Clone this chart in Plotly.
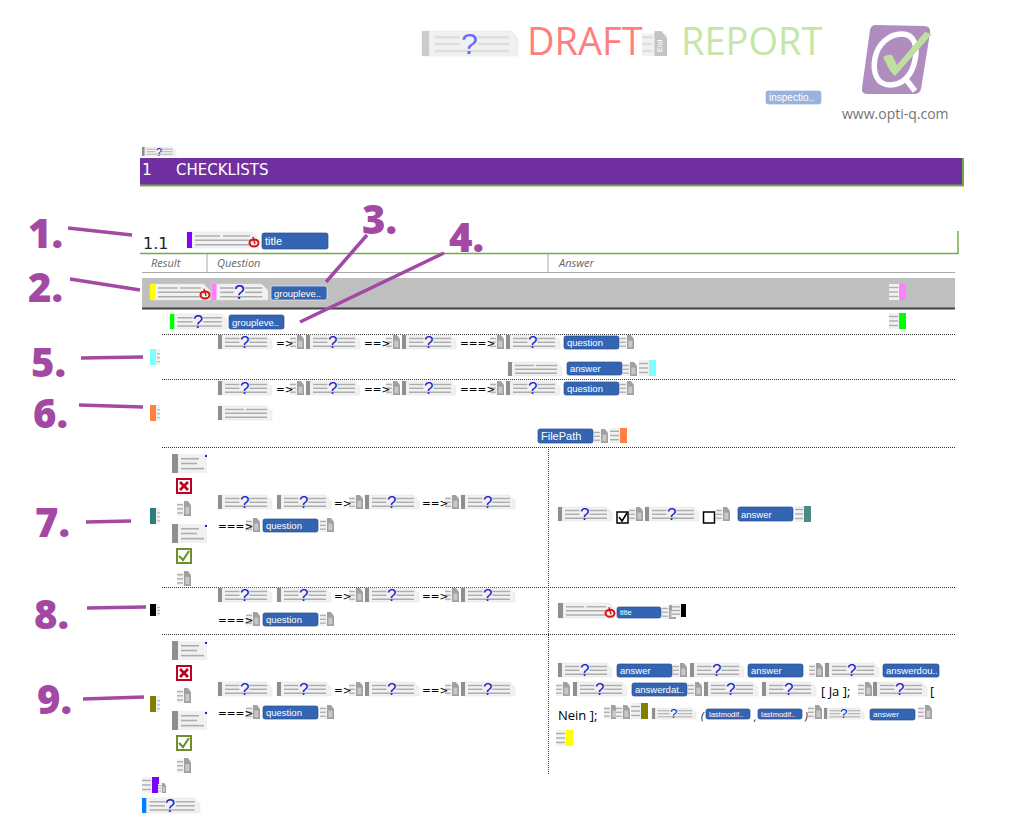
import plotly.graph_objects as go

# texts
header_words = ['DRAFT', 'REPORT']
site_label = 'www.opti-q.com'
section_no = '1'
section_title = 'CHECKLISTS'
sub_no = '1.1'
column_names = ['Result', 'Question', 'Answer']
callouts = ['1.', '2.', '3.', '4.', '5.', '6.', '7.', '8.', '9.']
arrows = ['=>', '==>', '===>']

PURPLE = '#a349a4'
BLUE = '#3465b3'
GREEN = '#70ad47'
TAG_BG = '#f1f1f1'
LINES = '#adadad'

shapes = []
notes = []


def rect(x0, y0, x1, y1, fill, line=None, width=1):
    shapes.append(dict(type='rect', x0=x0, y0=y0, x1=x1, y1=y1, fillcolor=fill,
                       line=dict(color=line or fill, width=width if line else 0)))


def seg(x0, y0, x1, y1, color, width=1, dash='solid'):
    shapes.append(dict(type='line', x0=x0, y0=y0, x1=x1, y1=y1,
                       line=dict(color=color, width=width, dash=dash)))


def path(d, fill='rgba(0,0,0,0)', line=None, width=0):
    shapes.append(dict(type='path', path=d, fillcolor=fill,
                       line=dict(color=line or 'rgba(0,0,0,0)', width=width)))


def text(x, y, s, size=11, color='#000000', font='Liberation Sans', anchor='left', bold=False, italic=False, weight=None, angle=0):
    if bold:
        s = '<b>' + s + '</b>'
    if italic:
        s = '<i>' + s + '</i>'
    f = dict(size=size, color=color, family=font)
    if weight:
        f['weight'] = weight
    notes.append(dict(x=x, y=y, text=s, showarrow=False, xanchor=anchor, yanchor='middle', font=f, textangle=angle))


def tag_body(x, y, w, h):
    fold = min(h * 0.4, 7)
    path(f'M{x},{y} L{x + w - fold},{y} L{x + w},{y + fold} L{x + w},{y + h} L{x},{y + h} Z',
         fill=TAG_BG, line='#e2e2e2', width=0.5)


def q_tag(x, y, w=54, h=14, bar='#8f8f8f', qcolor='#2020cc', lines=LINES):
    tag_body(x, y, w, h)
    k = h / 14
    rect(x, y, x + 4 * k, y + h, bar)
    mid = x + w * 0.49
    for f in (0.25, 0.52):
        seg(x + 7 * k, y + h * f, mid - 5 * k, y + h * f, lines, 1.4 * k)
        seg(mid + 5 * k, y + h * f, x + w - 5 * k, y + h * f, lines, 1.4 * k)
    seg(x + 7 * k, y + h * 0.8, x + w - 5 * k, y + h * 0.8, lines, 1.4 * k)
    text(mid, y + h / 2, '?', size=17 * k, color=qcolor, anchor='center', font='Liberation Sans')


def blank_tag(x, y, w=54, h=14):
    tag_body(x, y, w, h)
    rect(x, y, x + 4, y + h, '#8f8f8f')
    seg(x + 7, y + h * 0.25, x + w * 0.48, y + h * 0.25, LINES, 1.4)
    seg(x + w * 0.52, y + h * 0.25, x + w - 5, y + h * 0.25, LINES, 1.4)
    seg(x + 7, y + h * 0.52, x + w - 5, y + h * 0.52, LINES, 1.4)
    seg(x + 7, y + h * 0.8, x + w - 5, y + h * 0.8, LINES, 1.4)


def swirl_tag(x, y, w, h, bar):
    tag_body(x, y, w, h)
    rect(x, y, x + 5, y + h, bar)
    seg(x + 8, y + h * 0.25, x + w * 0.46, y + h * 0.25, LINES, 1.4)
    seg(x + w * 0.5, y + h * 0.25, x + w - 9, y + h * 0.25, LINES, 1.4)
    seg(x + 8, y + h * 0.52, x + w - 6, y + h * 0.52, LINES, 1.4)
    seg(x + 8, y + h * 0.8, x + w - 9, y + h * 0.8, LINES, 1.4)
    cx, cy = x + w - 5, y + h * 0.68
    shapes.append(dict(type='circle', x0=cx - 4.5, y0=cy - 3.5, x1=cx + 4.5, y1=cy + 3.5,
                       line=dict(color='#dd1111', width=2), fillcolor='rgba(0,0,0,0)'))
    seg(cx - 1, cy - 6, cx + 1, cy + 1, '#dd1111', 1.5)


def end_tag(x, y, w=14, h=14, bg=TAG_BG, lines=LINES, doc='#a0a0a0'):
    rect(x, y + h * 0.1, x + w, y + h, bg)
    for f in (0.25, 0.52, 0.8):
        seg(x, y + h * f, x + w * 0.42, y + h * f, lines, 1.3 * h / 14)
    d0 = x + w * 0.5
    path(f'M{d0},{y} L{x + w * 0.78},{y} L{x + w},{y + h * 0.3} L{x + w},{y + h} L{d0},{y + h} Z', fill=doc)
    rect(d0 + w * 0.1, y + h * 0.4, x + w * 0.88, y + h * 0.88, '#c8c8c8')


def end_bar(x, y, color, w=17, h=16, barw=7):
    rect(x, y, x + w - barw, y + h, TAG_BG)
    for f in (0.22, 0.5, 0.78):
        seg(x, y + h * f, x + w - barw - 1, y + h * f, LINES, 1.4)
    rect(x + w - barw, y, x + w, y + h, color)


def marker(x, y, color, h=16):
    rect(x, y, x + 6, y + h, color)
    rect(x + 6, y, x + 10, y + h, TAG_BG)
    for f in (0.3, 0.55, 0.8):
        seg(x + 7, y + h * f, x + 10, y + h * f, LINES, 1)


def button(x, y, w, h, label, size=9.5, fill=BLUE, edge='#2a4f8c'):
    r = 2
    path(f'M{x + r},{y} L{x + w - r},{y} Q{x + w},{y} {x + w},{y + r} L{x + w},{y + h - r} Q{x + w},{y + h} {x + w - r},{y + h} '
         f'L{x + r},{y + h} Q{x},{y + h} {x},{y + h - r} L{x},{y + r} Q{x},{y} {x + r},{y} Z',
         fill=fill, line=edge, width=0.7)
    text(x + 1, y + h / 2, label, size=size, color='#ffffff')


def check_tag(x, y, w=35, h=19):
    rect(x, y, x + w, y + h, TAG_BG)
    rect(x, y, x + 6, y + h, '#8f8f8f')
    for f, x1 in ((0.25, w - 8), (0.5, w - 10), (0.77, w - 3)):
        seg(x + 9, y + h * f, x + x1, y + h * f, LINES, 1.6)
    rect(x + w - 2, y + 1, x + w, y + 3, '#2020cc')


def cross_box(x, y):
    rect(x + 1, y + 1, x + 15, y + 15, '#ffffff', '#c00020', 2)
    seg(x + 4, y + 4, x + 12, y + 12, '#c00020', 2.6)
    seg(x + 12, y + 4, x + 4, y + 12, '#c00020', 2.6)


def tick_box(x, y):
    rect(x + 1, y + 1, x + 15, y + 15, '#ffffff', '#6f8f2f', 2)
    path(f'M{x + 3},{y + 8} L{x + 7},{y + 12} L{x + 13},{y + 3}', line='#6f8f2f', width=2.2)


def arrow(x, y, s):
    text(x - 1, y, s, size=10.5, font='DejaVu Sans')


def chain_line(y):
    q_tag(277, y)
    arrow(333, y + 8, arrows[0])
    end_tag(349, y)
    q_tag(365, y)
    arrow(421, y + 8, arrows[1])
    end_tag(445, y)
    q_tag(461, y)


def question_chain(y):
    q_tag(218, y)
    arrow(275, y + 8, arrows[0])
    end_tag(290, y)
    q_tag(306, y)
    arrow(363, y + 8, arrows[1])
    end_tag(386, y)
    q_tag(402, y)
    arrow(459, y + 8, arrows[2])
    end_tag(490, y)
    q_tag(506, y)
    button(564, y + 1, 55, 13, 'question')
    end_tag(620, y)


def second_chain(y, y2):
    q_tag(218, y)
    chain_line(y)
    arrow(217, y2 + 8, arrows[2])
    end_tag(246, y2)
    button(263, y2 + 1, 55, 13, 'question')
    end_tag(320, y2)


def left_stack(y):
    check_tag(172, y)
    cross_box(176, y + 24)
    end_tag(177, y + 47, h=15)
    check_tag(172, y + 70)
    tick_box(176, y + 94)
    end_tag(177, y + 117, h=15)


# header
q_tag(422, 31, w=96, h=25, bar='#cccccc', qcolor='#6a6aff', lines='#dedede')
text(524.5, 40, header_words[0], size=38, color='#ff7f7f', font='Open Sans')
end_tag(642, 31, w=25, h=25, lines='#dedede', doc='#c4c4c4')
text(659, 46, 'End', size=7, color='#ffffff', font='Liberation Sans', anchor='center', angle=-90)
text(678.5, 40, header_words[1], size=38, color='#c5e6a6', font='Open Sans')

# logo
path('M876,25 L924,26 Q931,26 930,33 L921,89 Q920,94 914,94 L868,94 Q861,94 862,88 L870,30 Q871,25 876,25 Z', fill='#b08dbf')
path('M902,34 C914,34 918,46 915,60 C912,76 902,85 890,85 C878,85 872,74 875,58 C878,44 889,34 902,34 Z', line='#ffffff', width=5.5)
seg(905, 78, 915, 91, '#ffffff', 5.5)
path('M883,57 Q888,54 892,55 L897,65 L925,32 L932,34 L895,76 Q890,72 887,65 Z', fill='#bfdf9f')

button(766, 91, 55, 13, 'inspectio..', size=10, fill='#9ab3dc', edge='#9ab3dc')
text(840, 113, site_label, size=14, color='#757575', font='Open Sans')

# section bar
q_tag(142, 147, w=34, h=9)
rect(140, 158, 963, 186, '#7030a0')
seg(140, 185.5, 964, 185.5, GREEN, 2)
seg(963, 158, 963, 186, GREEN, 2)
text(140, 170, section_no, size=15.5, color='#ffffff', font='DejaVu Sans')
text(174, 170, section_title, size=15, color='#ffffff', font='DejaVu Sans')

# sub heading
text(141, 243, sub_no, size=16, color='#222222', font='DejaVu Sans')
swirl_tag(187, 232, 72, 16, '#8000ff')
button(262, 233, 66, 16, 'title', size=11)
seg(140, 253.5, 958, 253.5, GREEN, 1.5)
seg(958, 231, 958, 254, GREEN, 1.5)

# table head
text(149, 262.5, column_names[0], size=11, color='#666666', font='Open Sans', italic=True)
text(215, 262.5, column_names[1], size=11, color='#666666', font='Open Sans', italic=True)
text(555.5, 262.5, column_names[2], size=11, color='#666666', font='Open Sans', italic=True)
seg(207, 254, 207, 272, '#aaaaaa', 1)
seg(548, 254, 548, 272, '#aaaaaa', 1)
seg(142, 272.5, 955, 272.5, '#aaaaaa', 1)

# group rows
rect(142, 278, 955, 308, '#bfbfbf')
seg(142, 308.5, 955, 308.5, '#404040', 2)
swirl_tag(150, 284, 60, 16, '#ffff00')
q_tag(212, 284, w=56, h=16, bar='#ff80ff')
button(271, 286, 56, 14, 'groupleve..', edge='#eeeeee')
end_bar(889, 284, '#ff80ff')

q_tag(170, 314, w=57, h=15, bar='#00ff00')
button(229, 315, 55, 14, 'groupleve..')
end_bar(889, 313, '#00ff00')

# dividers
for y in [334, 379, 447, 587, 634]:
    seg(162, y + 0.5, 955, y + 0.5, '#333333', 1, '1px,1px')
seg(548.5, 447, 548.5, 774, '#333333', 1, '1px,1px')

# row 5
marker(150, 349, '#80ffff')
question_chain(335)
blank_tag(508, 362)
button(567, 362, 55, 13, 'answer')
end_tag(623, 362)
end_bar(639, 360, '#80ffff')

# row 6
marker(150, 405, '#ff8040')
question_chain(381)
blank_tag(218, 406)
button(538, 429, 55, 14, 'FilePath', size=11)
end_tag(594, 429)
end_bar(610, 428, '#ff8040', h=15)

# row 7
marker(150, 508, '#2e7d7d')
left_stack(454)
second_chain(495, 518)
q_tag(558, 507)
rect(617, 512, 628, 523, '#ffffff', '#000000', 1.5)
path('M619,517 L622,521 L627,513', line='#000000', width=1.6)
end_tag(629, 507)
q_tag(645, 507)
rect(703.5, 512, 714.5, 523, '#ffffff', '#000000', 1.5)
end_tag(716, 507)
button(738, 507, 55, 14, 'answer')
end_bar(795, 506, '#4a8c84', w=16)

# row 8
marker(150, 604, '#000000', h=12)
second_chain(588, 612)
swirl_tag(558, 603, 57, 15, '#8f8f8f')
button(617, 607, 44, 11, 'title', size=7.5)
end_tag(662, 605)
end_bar(672, 604, '#000000', w=14, h=13, barw=5)

# row 9
marker(150, 696, '#808000')
left_stack(641)
second_chain(682, 705)
q_tag(558, 663)
button(617, 664, 55, 13, 'answer')
end_tag(673, 663)
q_tag(690, 663)
button(748, 664, 55, 13, 'answer')
end_tag(809, 663)
q_tag(825, 663)
button(883, 664, 56, 13, 'answerdou..')
end_tag(556, 682)
q_tag(573, 682)
button(632, 683, 55, 13, 'answerdat..')
end_tag(688, 682)
q_tag(704, 682)
q_tag(762, 682)
text(819, 691, '[ Ja ];', size=13, font='Open Sans')
end_tag(858, 682)
q_tag(873, 682)
text(928, 691, '[', size=13, font='Open Sans')
text(556, 715, 'Nein ];', size=13, font='Open Sans')
end_tag(604, 705)
end_tag(616, 705)
end_bar(631, 703, '#808000', h=16)
q_tag(652, 708, w=44, h=11)
text(699, 716, '(', size=10, font='Open Sans', italic=True)
button(706, 709, 44, 10, 'lastmodif..', size=7.5)
text(751, 717, ',', size=10, font='Open Sans', italic=True)
button(758, 709, 44, 10, 'lastmodif..', size=7.5)
text(802, 716, ')', size=10, font='Open Sans', italic=True)
end_tag(808, 705)
q_tag(824, 708, w=40, h=11)
button(870, 709, 45, 11, 'answer', size=8)
end_tag(918, 705)
end_bar(556, 730, '#ffff00')

# tail
end_bar(142, 777, '#8000ff')
end_tag(158, 783, w=8, h=10)
q_tag(142, 798, w=58, h=15, bar='#0080ff')

# call-outs
callout_pos = [(26, 232), (26, 286), (360, 218), (447, 236), (29, 361), (31, 412), (33, 521), (32, 613), (35, 698)]
callout_lines = [(68, 228, 132, 235), (70, 279, 140, 290), (367, 235, 326, 282), (444, 253, 300, 322),
                 (81, 358, 143, 357), (79, 405, 143, 407), (86, 522, 131, 521), (87, 608, 146, 607), (83, 699, 144, 697)]
for label, pos, ln in zip(callouts, callout_pos, callout_lines):
    text(pos[0], pos[1], label, size=40, color=PURPLE, font='Open Sans', weight=800)
    seg(ln[0], ln[1], ln[2], ln[3], PURPLE, 3.5)

fig = go.Figure()
fig.update_layout(
    width=1030, height=817, showlegend=False,
    margin=dict(l=0, r=0, t=0, b=0),
    plot_bgcolor='#ffffff', paper_bgcolor='#ffffff',
    xaxis=dict(range=[0, 1030], visible=False, fixedrange=True),
    yaxis=dict(range=[817, 0], visible=False, fixedrange=True),
    shapes=shapes, annotations=notes,
)
fig.write_html("out.html", config=dict(displayModeBar=False),
               post_script="document.body.style.margin='0';document.body.style.overflow='hidden';")
